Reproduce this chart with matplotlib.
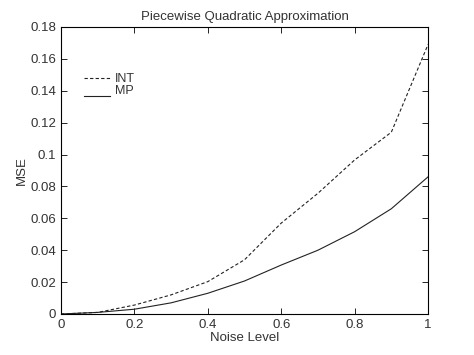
import matplotlib
matplotlib.use("Agg")
import matplotlib.pyplot as plt
from matplotlib.transforms import ScaledTranslation

noise_level = [0.0, 0.1, 0.2, 0.3, 0.4, 0.5, 0.6, 0.7, 0.8, 0.9, 1.0]
mse_int = [0.0, 0.001, 0.0056, 0.012, 0.0203, 0.034, 0.057, 0.0757, 0.0966, 0.114, 0.169]
mse_mp = [0.0, 0.001, 0.003, 0.007, 0.013, 0.0207, 0.0307, 0.040, 0.0516, 0.066, 0.086]

x_ticks = [0, 0.2, 0.4, 0.6, 0.8, 1]
x_labels = ["0", "0.2", "0.4", "0.6", "0.8", "1"]
y_ticks = [0, 0.02, 0.04, 0.06, 0.08, 0.1, 0.12, 0.14, 0.16, 0.18]
y_labels = ["0", "0.02", "0.04", "0.06", "0.08", "0.1", "0.12", "0.14", "0.16", "0.18"]

plt.rcParams["font.family"] = ["Liberation Sans", "DejaVu Sans"]

fig = plt.figure(figsize=(4.74, 3.55), dpi=100)
ax = fig.add_axes([0.1287, 0.1155, 0.7743, 0.8085])

ax.plot(noise_level, mse_int, color="#222222", lw=0.8, linestyle=(0, (3, 2)), label="INT")
ax.plot(noise_level, mse_mp, color="#222222", lw=0.8, label="MP")

ax.set_xlim(0, 1)
ax.set_ylim(0, 0.18)
ax.set_xticks(x_ticks)
ax.set_xticklabels(x_labels)
ax.set_yticks(y_ticks)
ax.set_yticklabels(y_labels)
ax.tick_params(direction="in", top=True, right=True, labelsize=9.5, length=4, width=0.6,
               labelcolor="#333333")
for s in ax.spines.values():
    s.set_linewidth(0.8)

ax.set_xlabel("Noise Level", fontsize=9.5, labelpad=1, color="#333333")
ax.set_ylabel("MSE", fontsize=9.5, labelpad=2, color="#333333")
ax.set_title("Piecewise Quadratic Approximation", fontsize=9.5, pad=5, color="#333333")

# MATLAB-style legend: no box, MP line sits a bit below its label
leg = ax.legend(loc="upper left", bbox_to_anchor=(0.0627, 0.840), frameon=False, fontsize=9,
                handlelength=2.1, handletextpad=0.4, labelspacing=0.0, borderaxespad=0,
                borderpad=0)
for t in leg.get_texts():
    t.set_color("#333333")
mp_handle = leg.get_lines()[1]
mp_handle.set_transform(mp_handle.get_transform() + ScaledTranslation(0, -5 / 72, fig.dpi_scale_trans))

fig.savefig("out.png", dpi=100)
